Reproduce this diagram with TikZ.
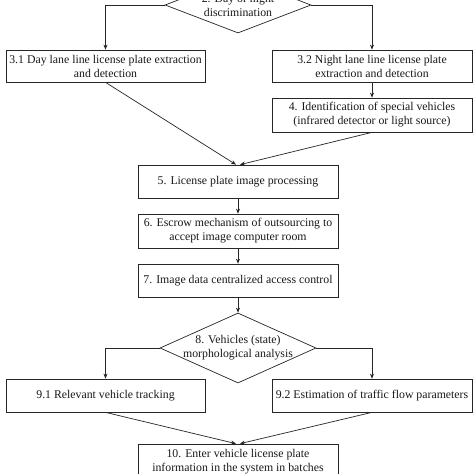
\documentclass[tikz,border=0pt]{standalone}
\usepackage{fontspec}
\setmainfont{Liberation Serif}
\usetikzlibrary{arrows.meta,shapes.geometric}
\begin{document}
\begin{tikzpicture}[x=1pt,y=-1pt,
  box/.style={draw=black!85, line width=0.7pt, rectangle, inner sep=0pt, align=center, font=\fontsize{11.8}{14}\selectfont, text=black!90},
  dia/.style={draw=black!85, line width=0.7pt, diamond, inner sep=0pt},
  txt/.style={align=center, inner sep=0pt, font=\fontsize{11.8}{14}\selectfont, text=black!90},
  conn/.style={draw=black!85, line width=0.7pt},
  arr/.style={conn, -{Stealth[length=5pt,width=4pt]}}]
\useasboundingbox (0,0) rectangle (474,474);
\fill[white] (0,0) rectangle (474,474);
% diamond 2
\node[dia, minimum width=146pt, minimum height=56pt] (d2) at (238,5) {};
\node[txt] (t2) at (238,5.5) {2. Day or night\\discrimination};
% row 3
\node[box, minimum width=199pt, minimum height=32pt] (b31) at (105.5,66) {3.1 Day lane line license plate extraction\\and detection};
\node[box, minimum width=200pt, minimum height=32pt] (b32) at (372,66) {3.2 Night lane line license plate\\extraction and detection};
\node[box, minimum width=200pt, minimum height=34pt] (b4) at (372,115) {4. Identification of special vehicles\\(infrared detector or light source)};
\node[box, minimum width=200pt, minimum height=33pt] (b5) at (238,181.5) {5. License plate image processing};
\node[box, minimum width=200pt, minimum height=34pt] (b6) at (238,231) {6. Escrow mechanism of outsourcing to\\accept image computer room};
\node[box, minimum width=200pt, minimum height=33pt] (b7) at (238,280.5) {7. Image data centralized access control};
% diamond 8
\node[dia, minimum width=156pt, minimum height=70pt] (d8) at (238,348) {};
\node[txt] (t8) at (238,348) {8. Vehicles (state)\\morphological analysis};
\node[box, minimum width=199pt, minimum height=33pt] (b91) at (105.5,395.5) {9.1 Relevant vehicle tracking};
\node[box, minimum width=200pt, minimum height=33pt] (b92) at (372,395.5) {9.2 Estimation of traffic flow parameters};
\node[box, minimum width=200pt, minimum height=36pt] (b10) at (238,462) {10. Enter vehicle license plate\\information in the system in batches};
% connectors
\draw[arr] (d2.west) -| (b31.north);
\draw[arr] (d2.east) -| (b32.north);
\draw[arr] (b32) -- (b4);
\draw[arr] (b31.south) -- ([xshift=-2pt]b5.north);
\draw[arr] (b4.south) -- ([xshift=2pt]b5.north);
\draw[arr] (b5) -- (b6);
\draw[arr] (b6) -- (b7);
\draw[arr] (b7) -- (d8);
\draw[arr] (d8.west) -| (b91.north);
\draw[arr] (d8.east) -| (b92.north);
\draw[arr] (b91.south) -- ([xshift=-2pt]b10.north);
\draw[arr] (b92.south) -- ([xshift=2pt]b10.north);
\end{tikzpicture}
\end{document}
